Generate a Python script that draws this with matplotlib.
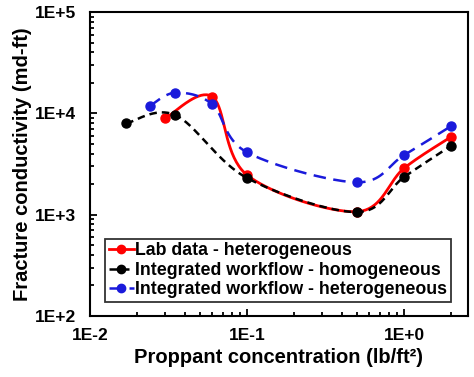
"""
Fracture conductivity versus proppant concentration, lab data and the
integrated workflow (homogeneous and heterogeneous).
"""

import matplotlib
matplotlib.use('Agg')
import matplotlib.pyplot as plt
from matplotlib.ticker import FuncFormatter, LogLocator, NullFormatter
import numpy as np


LAB_X = [0.030, 0.060, 0.10, 0.50, 1.0, 2.0]
LAB_Y = [8900, 14600, 2460, 1070, 2870, 5880]

HOMO_X = [0.017, 0.035, 0.10, 0.50, 1.0, 2.0]
HOMO_Y = [7950, 9600, 2300, 1060, 2350, 4800]

HETERO_X = [0.024, 0.035, 0.060, 0.10, 0.50, 1.0, 2.0]
HETERO_Y = [11800, 16000, 12300, 4120, 2085, 3870, 7500]

LABELS = [
    'Lab data - heterogeneous',
    'Integrated workflow - homogeneous',
    'Integrated workflow - heterogeneous',
]

FONT = 'Liberation Sans'


def smooth(xs, ys, steps=40):
    # Excel-style smoothed line: Catmull-Rom Bezier segments in log space.
    p = np.column_stack([np.log10(xs), np.log10(ys)])
    n = len(p)
    out = []
    for i in range(n - 1):
        p0 = p[max(i - 1, 0)]
        p1 = p[i]
        p2 = p[i + 1]
        p3 = p[min(i + 2, n - 1)]
        c1 = p1 + (p2 - p0) / 6
        c2 = p2 - (p3 - p1) / 6
        t = np.linspace(0, 1, steps)[:, None]
        seg = ((1 - t) ** 3 * p1 + 3 * (1 - t) ** 2 * t * c1
               + 3 * (1 - t) * t ** 2 * c2 + t ** 3 * p2)
        out.append(seg if i == 0 else seg[1:])
    seg = np.vstack(out)
    return 10 ** seg[:, 0], 10 ** seg[:, 1]


def main():

    plt.rcParams['font.family'] = [FONT, 'DejaVu Sans']
    plt.rcParams['font.weight'] = 'bold'

    fig = plt.figure(figsize=(4.74, 3.77), dpi=100)
    axes = fig.add_axes([0.19, 0.162, 0.797, 0.806])

    series = [
        (LAB_X, LAB_Y, 'red', '-', 2.0),
        (HOMO_X, HOMO_Y, 'black', (0, (3, 2)), 1.8),
        (HETERO_X, HETERO_Y, '#1a1adb', (0, (5, 3)), 1.8),
    ]

    for (xs, ys, color, style, width), label in zip(series, LABELS):
        sx, sy = smooth(xs, ys)
        axes.plot(sx, sy, color=color, linestyle=style, linewidth=width)
        axes.plot(xs, ys, 'o', color=color, markersize=6.5)
        axes.plot([], [], color=color, linestyle=style, linewidth=width,
                  marker='o', markersize=6, label=label)

    axes.set_xscale('log')
    axes.set_yscale('log')
    axes.set_xlim(0.01, 2.55)
    axes.set_ylim(100, 100000)

    fmt = FuncFormatter(lambda v, _: '1E%+d' % round(np.log10(v)))
    axes.xaxis.set_major_formatter(fmt)
    axes.yaxis.set_major_formatter(fmt)
    for axis in (axes.xaxis, axes.yaxis):
        axis.set_minor_locator(LogLocator(base=10, subs=np.arange(2, 10)))
        axis.set_minor_formatter(NullFormatter())

    axes.tick_params(which='both', direction='in', top=False, right=False,
                     labelsize=12.5, width=1.3)
    axes.tick_params(axis='y', pad=10)
    axes.tick_params(axis='x', pad=9)
    axes.tick_params(which='major', length=5)
    axes.tick_params(which='minor', length=3)
    for spine in axes.spines.values():
        spine.set_linewidth(1.5)

    axes.set_xlabel('Proppant concentration (lb/ft\u00b2)',
                    fontsize=14.5, fontweight='bold', labelpad=3)
    axes.set_ylabel('Fracture conductivity (md-ft)', fontsize=14.5,
                    fontweight='bold', labelpad=2)

    legend = axes.legend(loc='lower left', bbox_to_anchor=(0.04, 0.046),
                         fontsize=12.8, frameon=True, fancybox=False,
                         edgecolor='black', handlelength=1.4,
                         handletextpad=0.1, borderpad=0.2,
                         labelspacing=0.15, borderaxespad=0)
    legend.get_frame().set_linewidth(1.3)

    fig.savefig('out.png', dpi=100)
    plt.close(fig)


if __name__ == '__main__':
    main()
